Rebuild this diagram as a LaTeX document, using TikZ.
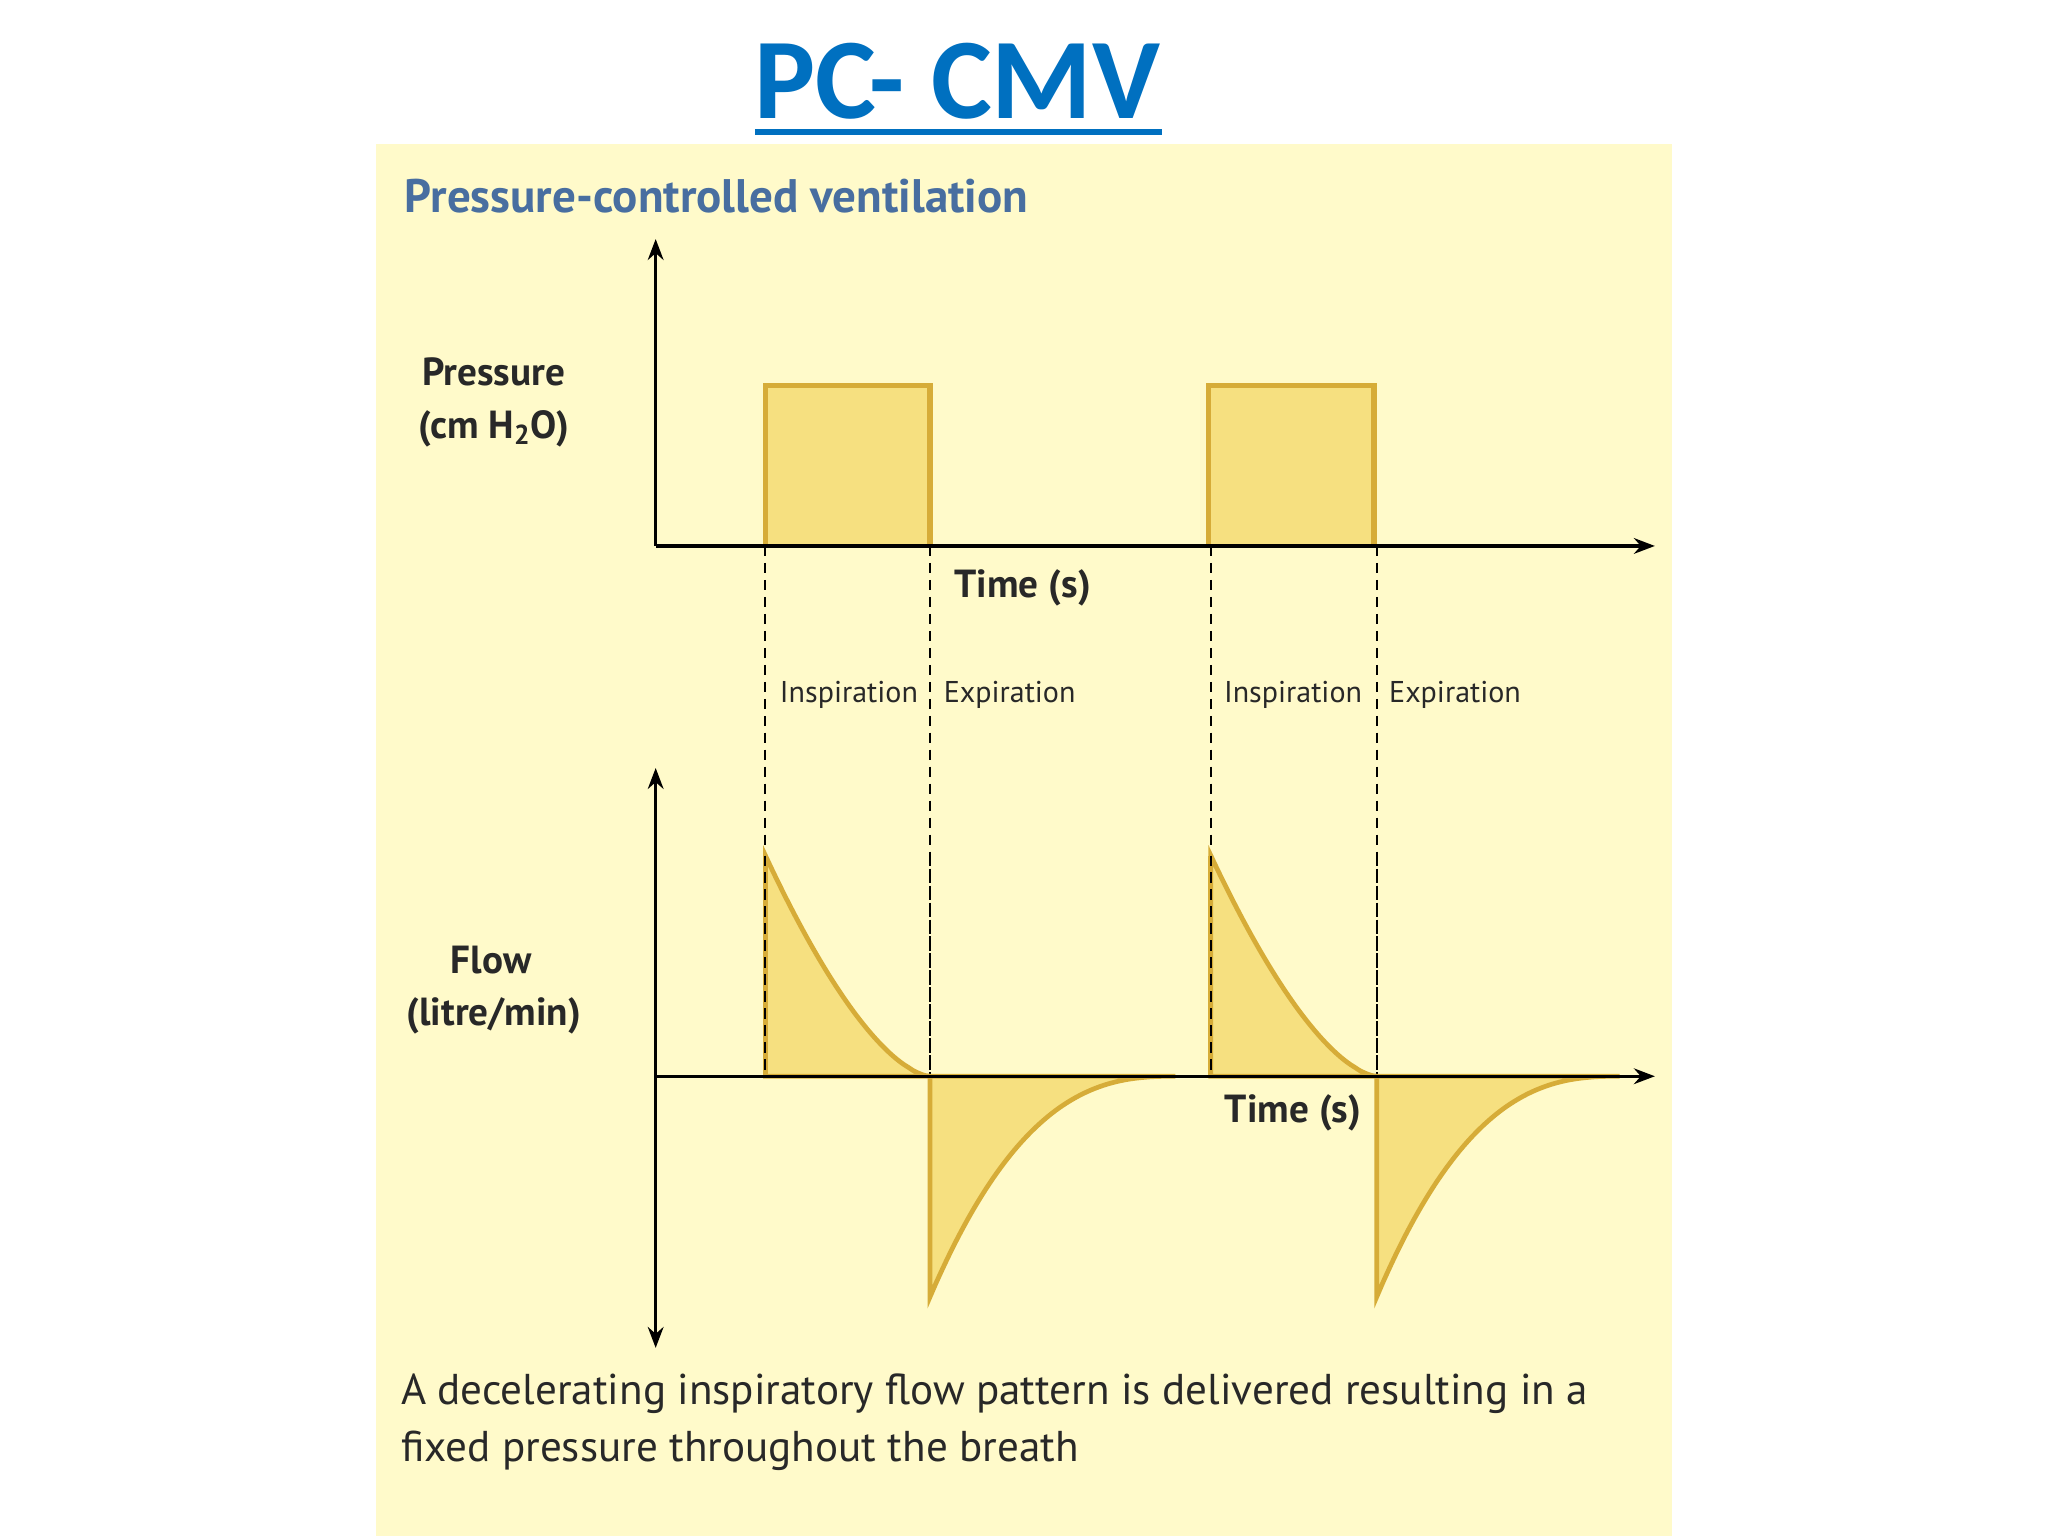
\documentclass[tikz,border=0pt]{standalone}
\usepackage{fontspec}
\setmainfont{PT Sans}
\newfontfamily\titlefont{Carlito}
\usetikzlibrary{arrows.meta}
\definecolor{bgy}{RGB}{255,250,202}
\definecolor{fillY}{RGB}{246,224,128}
\definecolor{lineY}{RGB}{214,172,56}
\definecolor{titleB}{RGB}{0,112,192}
\definecolor{subB}{RGB}{72,110,160}
\definecolor{txt}{RGB}{40,40,40}
\tikzset{ax/.style={line width=1.3pt,-{Stealth[length=8pt,width=6pt]}},
 dsh/.style={dashed,line width=0.8pt,dash pattern=on 4pt off 2.5pt},
 wave/.style={fill=fillY,draw=lineY,line width=1.8pt},
 lbl/.style={font=\fontsize{15}{18}\selectfont\bfseries,text=txt},
 sml/.style={font=\fontsize{11.5}{13}\selectfont,text=txt}}
\begin{document}
\begin{tikzpicture}[x=0.5pt,y=-0.5pt]
\useasboundingbox (0,0) rectangle (1568,1176);
\fill[white] (0,0) rectangle (1568,1176);
\fill[bgy] (288,110) rectangle (1280,1176);
\node (title) at (733,62) {\titlefont\fontsize{44}{50}\selectfont\bfseries\color{titleB}PC- CMV};
\draw[titleB,line width=2pt] (578,101) -- (890,101);
\node[anchor=west,font=\fontsize{18}{21}\selectfont\bfseries,text=subB] (sub) at (303,150) {Pressure-controlled ventilation};
% pressure
\fill[fillY] (586,295) rectangle (712,418);
\draw[lineY,line width=2pt] (586,418) -- (586,295) -- (712,295) -- (712,418);
\fill[fillY] (925,295) rectangle (1052,418);
\draw[lineY,line width=2pt] (925,418) -- (925,295) -- (1052,295) -- (1052,418);
\coordinate (po) at (502,418);
\coordinate (py) at (502,183);
\coordinate (px) at (1267,418);
\draw[ax] (po) -- (py);
\draw[ax] (po) -- (px);
\node[lbl] (pl) at (378,285) {Pressure};
\node[lbl] (pu) at (378,328) {(cm H\textsubscript{2}O)};
\node[lbl] (t1) at (783,450) {Time (s)};
% dashed
\foreach \x in {586,712,927,1054} \draw[dsh] (\x,418) -- (\x,824);
\node[sml] at (650,532) {Inspiration};
\node[sml] at (773,532) {Expiration};
\node[sml] at (990,532) {Inspiration};
\node[sml] at (1114,532) {Expiration};
% flow
\foreach \a/\b/\c in {586/712/900,927/1054/1240}{
 \draw[wave] (\a,824) -- (\a,655) -- plot[domain=0:1,samples=40,smooth] ({\a+(\b-\a)*\x},{824-169*(1-\x)^1.6}) -- cycle;
 \draw[wave] (\b,824) -- (\b,993) -- plot[domain=0:1,samples=40,smooth] ({\b+(\c-\b)*\x},{824+169*(1-\x)^2.6}) -- cycle;
 \draw[lineY,line width=2pt] (\a,824) -- (\a,655);
}
\foreach \x in {586,712,927,1054} \draw[dsh] (\x,655) -- (\x,824);
\coordinate (fo) at (502,824);
\coordinate (fu) at (502,588);
\coordinate (fd) at (502,1032);
\coordinate (fx) at (1267,824);
\draw[ax] (fo) -- (fu);
\draw[ax] (fo) -- (fd);
\draw[ax] (fo) -- (fx);
\node[lbl] (fl) at (376,735) {Flow};
\node[lbl] (fu2) at (378,778) {(litre/min)};
\node[lbl] (t2) at (990,852) {Time (s)};
\node[anchor=west,font=\fontsize{16.5}{22}\selectfont,text=txt,align=left] (cap) at (300,1089)
 {A decelerating inspiratory flow pattern is delivered resulting in a\\fixed pressure throughout the breath};
\end{tikzpicture}
\end{document}
